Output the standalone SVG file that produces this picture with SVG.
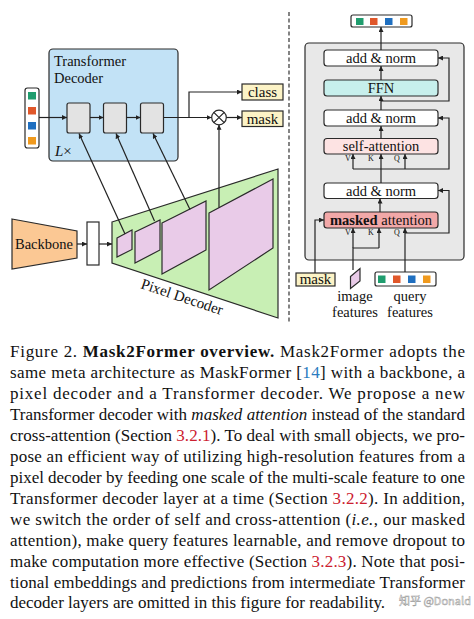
<svg xmlns="http://www.w3.org/2000/svg" width="474" height="619" viewBox="0 0 474 619">
<defs>
<marker id="ah" viewBox="0 0 8 8" refX="8" refY="4" markerWidth="5" markerHeight="5" orient="auto" markerUnits="userSpaceOnUse">
<path d="M0,0 L8,4 L0,8 z" fill="#222"/>
</marker>
</defs>
<style>
text{font-family:"Liberation Serif","Times New Roman",serif;fill:#111}
.lbl{font-size:14.5px}
.mid{text-anchor:middle}
.sm{font-size:8px;text-anchor:middle}
.box{stroke:#2a2a2a;stroke-width:1.2}
.ln{fill:none;stroke:#222;stroke-width:1.2}
.arr{fill:none;stroke:#222;stroke-width:1.2;marker-end:url(#ah)}
.cap{font-size:17px}
.ref{fill:#cc2030}
.refb{fill:#2b7cc0}
.qg{fill:#1f9d6e}.qo{fill:#e0572a}.qb{fill:#1f6fc0}.qy{fill:#f09a1e}
</style>
<rect width="474" height="619" fill="#fff"/>

<!-- left: transformer decoder -->
<g id="transformer-decoder">
<rect class="box" x="49" y="49" width="129" height="112" rx="4" fill="#c2e2f6"/>
<text class="lbl" x="54" y="66">Transformer</text>
<text class="lbl" x="54" y="83">Decoder</text>
<text x="55" y="156" style="font-size:15px"><tspan font-style="italic">L</tspan>×</text>
</g>
<g id="query-input">
<rect class="box" x="25" y="88" width="14" height="60" rx="2.5" fill="#fff"/>
<rect class="qg" x="28" y="92" width="8" height="7.5"/>
<rect class="qo" x="28" y="107" width="8" height="7.5"/>
<rect class="qb" x="28" y="122" width="8" height="7.5"/>
<rect class="qy" x="28" y="137" width="8" height="7.5"/>
</g>
<g id="layer1"><rect class="box" x="67" y="103" width="23" height="30" rx="2" fill="#e3e3e3"/></g>
<g id="layer2"><rect class="box" x="103.5" y="103" width="23" height="30" rx="2" fill="#e3e3e3"/></g>
<g id="layer3"><rect class="box" x="140.5" y="103" width="23" height="30" rx="2" fill="#e3e3e3"/></g>
<g id="class-out"><rect class="box" x="242" y="84" width="41" height="16" fill="#fcf3c6"/><text x="262.5" y="97" class="mid" style="font-size:15px">class</text></g>
<g id="mask-out"><rect class="box" x="242" y="111" width="41" height="15.5" fill="#fcf3c6"/><text x="262.5" y="123.5" class="mid" style="font-size:15px">mask</text></g>
<g id="product">
<circle class="box" cx="219" cy="117.5" r="7.3" fill="#fff"/>
<path class="ln" d="M213.8,112.3 L224.2,122.7 M224.2,112.3 L213.8,122.7"/>
</g>

<!-- backbone and pixel decoder -->
<g id="backbone">
<polygon class="box" points="12,219 77,231 77,258 12,269" fill="#fbc894"/>
<text class="lbl mid" x="44" y="248.5">Backbone</text>
</g>
<g id="backbone-feature"><rect class="box" x="87" y="222" width="12" height="43" fill="#fff"/></g>
<g id="pixel-decoder">
<polygon class="box" points="112,222 278,169 278,318 112,263" fill="#c8efb4"/>
<polygon class="box" points="117,238 132,230 132,249.5 117,257" fill="#e9cbe8"/>
<polygon class="box" points="135,232 160,220 160,250 135,263" fill="#e9cbe8"/>
<polygon class="box" points="162,223 206,201 206,250 162,274" fill="#e9cbe8"/>
<polygon class="box" points="209,213 273,179 273,248 209,290" fill="#e9cbe8"/>
<text x="140" y="288" transform="rotate(18.5 140 288)" style="font-size:15px">Pixel Decoder</text>
</g>

<!-- separator -->
<line x1="289" y1="12" x2="289" y2="323" stroke="#333" stroke-width="1.2" stroke-dasharray="4 2.5"/>

<!-- right: decoder layer detail -->
<g id="layer-detail">
<rect class="box" x="305" y="43" width="159" height="217" rx="4" fill="#e8e8e8"/>
</g>
<g id="output-queries">
<rect class="box" x="351" y="15" width="61" height="12" rx="2" fill="#fff"/>
<rect class="qg" x="356" y="18" width="7.5" height="7"/>
<rect class="qo" x="370" y="18" width="7.5" height="7"/>
<rect class="qb" x="385" y="18" width="7.5" height="7"/>
<rect class="qy" x="400" y="18" width="7.5" height="7"/>
</g>
<g id="add-norm-1"><rect class="box" x="324" y="50" width="114" height="16" rx="3" fill="#fff"/><text class="lbl mid" x="381" y="62.7">add &amp; norm</text></g>
<g id="ffn"><rect class="box" x="324" y="80" width="114" height="16" rx="3" fill="#c7efec"/><text class="lbl mid" x="381" y="92.7">FFN</text></g>
<g id="add-norm-2"><rect class="box" x="324" y="110" width="114" height="16" rx="3" fill="#fff"/><text class="lbl mid" x="381" y="122.7">add &amp; norm</text></g>
<g id="self-attention"><rect class="box" x="324" y="138.5" width="114" height="15.5" rx="3" fill="#fde3e3"/><text class="lbl mid" x="381" y="151">self-attention</text>
<text class="sm" x="348" y="160.5">V</text><text class="sm" x="371" y="160.5">K</text><text class="sm" x="397" y="160.5">Q</text></g>
<g id="add-norm-3"><rect class="box" x="324" y="183" width="114" height="15.5" rx="3" fill="#fff"/><text class="lbl mid" x="381" y="195.5">add &amp; norm</text></g>
<g id="masked-attention"><rect class="box" x="324" y="212" width="114" height="16" rx="3" fill="#f2a8a8"/><text class="lbl mid" x="381" y="224.7"><tspan font-weight="bold">masked</tspan> attention</text>
<text class="sm" x="348" y="234.5">V</text><text class="sm" x="371" y="234.5">K</text><text class="sm" x="397" y="234.5">Q</text></g>
<g id="mask-input"><rect class="box" x="296" y="273" width="39" height="13" fill="#fcf3c6"/><text x="315.5" y="284" class="mid" style="font-size:15px">mask</text></g>
<g id="image-features"><polygon class="box" points="350.5,276.5 360,268.5 360,281 350.5,288.5" fill="#e9cbe8"/>
<text class="lbl mid" x="355" y="300.5">image</text><text class="lbl mid" x="355" y="317">features</text></g>
<g id="query-features">
<rect class="box" x="375" y="272" width="61" height="14" rx="2" fill="#fff"/>
<rect class="qg" x="378" y="275.5" width="7.5" height="7.5"/>
<rect class="qo" x="393" y="275.5" width="7.5" height="7.5"/>
<rect class="qb" x="408" y="275.5" width="7.5" height="7.5"/>
<rect class="qy" x="423" y="275.5" width="7.5" height="7.5"/>
<text class="lbl mid" x="410" y="300.5">query</text><text class="lbl mid" x="410" y="317">features</text></g>

<!-- connectors -->
<g id="connectors">
<path class="arr" d="M39,117.5 L67,117.5"/>
<path class="arr" d="M90,117.5 L103.5,117.5"/>
<path class="arr" d="M126.5,117.5 L140.5,117.5"/>
<path class="arr" d="M163.5,117.5 L211.7,117.5"/>
<path class="arr" d="M189,117.5 L189,92 L242,92"/>
<path class="arr" d="M226.3,117.5 L242,117.5"/>
<path class="arr" d="M219,207.5 L219,124.8"/>
<path class="arr" d="M125,234 L79,133.5"/>
<path class="arr" d="M154.5,221 L116,133.5"/>
<path class="arr" d="M190,209.5 L153,133.5"/>
<path class="arr" d="M77,244 L87,244"/>
<path class="arr" d="M99,244 L112,244"/>

<path class="arr" d="M381,50 L381,27"/>
<path class="arr" d="M381,110 L381,96"/>
<path class="arr" d="M381,80 L381,66"/>
<path class="arr" d="M381,138.5 L381,126"/>
<path class="arr" d="M381,183 L381,154"/>
<path class="arr" d="M380,212 L380,198.5"/>
<path class="arr" d="M381,101 L449,101 L449,58 L438,58"/>
<path class="arr" d="M353,169 L449,169 L449,118 L438,118"/>
<path class="arr" d="M353,169 L353,154"/>
<path class="arr" d="M405,169 L405,154"/>
<path class="arr" d="M405,233 L449,233 L449,190.5 L438,190.5"/>
<path class="arr" d="M405,272 L405,228"/>
<path class="ln" d="M353,270 L353,248 L379,248"/>
<path class="arr" d="M353,248 L353,228"/>
<path class="arr" d="M379,248 L379,228"/>
<path class="arr" d="M315,273 L315,220 L324,220"/>
</g>

<!-- caption -->
<g id="caption">
<text class="cap" x="10" y="357" textLength="455" lengthAdjust="spacing">Figure 2.  <tspan font-weight="bold">Mask2Former overview.</tspan>  Mask2Former adopts the</text>
<text class="cap" x="10" y="378" textLength="455" lengthAdjust="spacing">same meta architecture as MaskFormer [<tspan class="refb">14</tspan>] with a backbone, a</text>
<text class="cap" x="10" y="399" textLength="455" lengthAdjust="spacing">pixel decoder and a Transformer decoder.  We propose a new</text>
<text class="cap" x="10" y="420" textLength="455" lengthAdjust="spacing">Transformer decoder with <tspan font-style="italic">masked attention</tspan> instead of the standard</text>
<text class="cap" x="10" y="441" textLength="455" lengthAdjust="spacing">cross-attention (Section <tspan class="ref">3.2.1</tspan>). To deal with small objects, we pro-</text>
<text class="cap" x="10" y="462" textLength="455" lengthAdjust="spacing">pose an efficient way of utilizing high-resolution features from a</text>
<text class="cap" x="10" y="483" textLength="455" lengthAdjust="spacing">pixel decoder by feeding one scale of the multi-scale feature to one</text>
<text class="cap" x="10" y="504" textLength="455" lengthAdjust="spacing">Transformer decoder layer at a time (Section <tspan class="ref">3.2.2</tspan>). In addition,</text>
<text class="cap" x="10" y="525" textLength="455" lengthAdjust="spacing">we switch the order of self and cross-attention (<tspan font-style="italic">i.e.</tspan>, our masked</text>
<text class="cap" x="10" y="546" textLength="455" lengthAdjust="spacing">attention), make query features learnable, and remove dropout to</text>
<text class="cap" x="10" y="567" textLength="455" lengthAdjust="spacing">make computation more effective (Section <tspan class="ref">3.2.3</tspan>). Note that posi-</text>
<text class="cap" x="10" y="588" textLength="455" lengthAdjust="spacing">tional embeddings and predictions from intermediate Transformer</text>
<text class="cap" x="10" y="608">decoder layers are omitted in this figure for readability.</text>
<text x="399" y="605" style="font-family:'Noto Sans CJK SC','Noto Sans',sans-serif;font-size:11px;fill:#ffffff;fill-opacity:0.7;stroke:#9a9a9a;stroke-width:0.5">知乎 @Donald</text>
</g>
</svg>
